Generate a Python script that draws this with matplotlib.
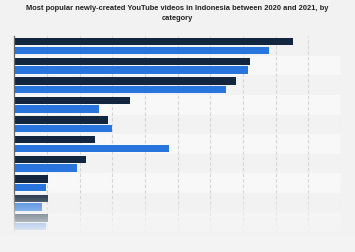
import matplotlib
matplotlib.use("Agg")
import matplotlib.pyplot as plt
import numpy as np

# values (axis 0-100, gridlines every 10)
values_dark = [85.3, 72.1, 67.9, 35.4, 28.7, 24.7, 22.0, 10.4, 10.4, 10.2]
values_blue = [78.1, 71.5, 64.8, 26.0, 30.0, 47.3, 19.3, 9.7, 8.5, 9.7]
title = "Most popular newly-created YouTube videos in Indonesia between 2020 and 2021, by\ncategory"

bg = "#f2f2f2"
dark = "#12263f"
blue = "#2876dd"

fig = plt.figure(figsize=(3.55, 2.53), dpi=100, facecolor=bg)
ax = fig.add_axes([14.3 / 355, 1 - 233.2 / 253, (341 - 14.3) / 355, 196 / 253])
ax.set_facecolor(bg)

n = len(values_dark)
ind = np.arange(n)
h = 0.38
off = 0.22

# alternating row bands
for i in ind:
    if i % 2 == 1:
        ax.axhspan(i - 0.5, i + 0.5, color="#f8f8f8", zorder=0, lw=0)

ax.barh(ind - off, values_dark, h, color=dark, zorder=3)
ax.barh(ind + off, values_blue, h, color=blue, zorder=3)

ax.set_xlim(0, 100)
ax.set_ylim(n - 0.5, -0.5)
ax.set_xticks(np.arange(10, 101, 10))
ax.set_yticks([])
ax.tick_params(axis="x", length=0, labelbottom=False)
ax.grid(axis="x", color="#d4d4d4", linestyle=(0, (3, 2)), linewidth=0.8, zorder=1)
for s in ["top", "right", "bottom"]:
    ax.spines[s].set_visible(False)
ax.spines["left"].set_color("#666666")
ax.spines["left"].set_linewidth(0.9)
ax.spines["left"].set_zorder(4)

fig.text(0.5, 0.982, title, ha="center", va="top", fontsize=5.4,
         fontweight="bold", family="Liberation Sans", color="#222222",
         linespacing=1.75)

# fade-out overlay towards the bottom
ov = fig.add_axes([0, 0, 1, 1], zorder=10)
ov.axis("off")
ypix = np.arange(253)
alpha = np.clip((ypix - 190) / 46.0, 0, 1)
grad = np.zeros((253, 1, 4))
grad[..., :3] = np.array([0xf3, 0xf3, 0xf3]) / 255.0
grad[:, 0, 3] = alpha
ov.imshow(grad, extent=[0, 1, 0, 1], aspect="auto", origin="upper")
ov.set_xlim(0, 1)
ov.set_ylim(0, 1)

fig.savefig("out.png", dpi=100, facecolor=bg)
